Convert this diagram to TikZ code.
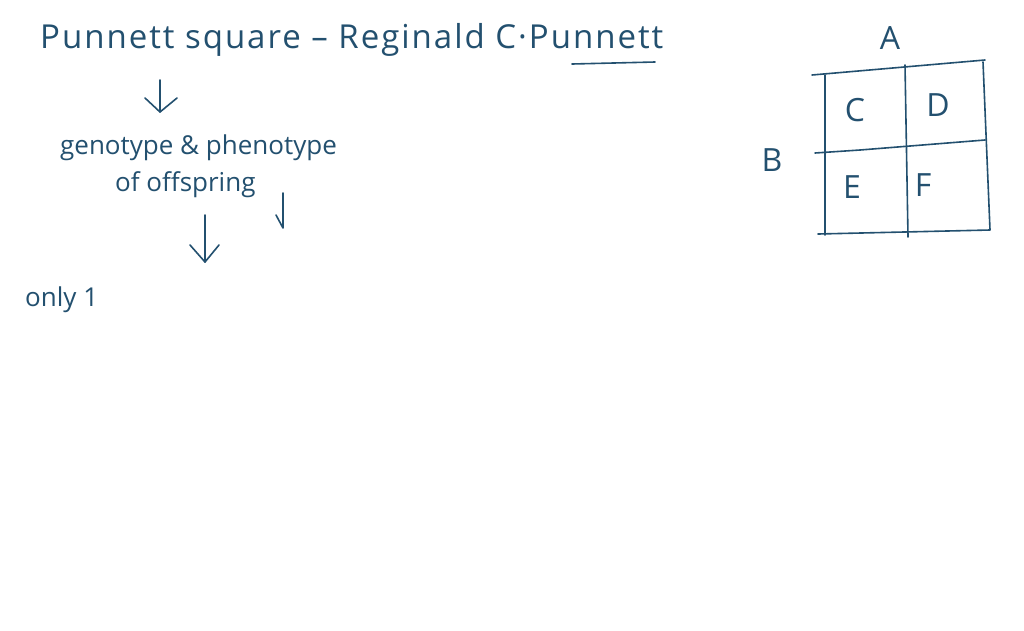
\documentclass[tikz,border=0pt]{standalone}
\usepackage{fontspec}
\setmainfont{Open Sans}
\definecolor{ink}{HTML}{23506F}
\begin{document}
\begin{tikzpicture}[x=1pt,y=-1pt,
  hand/.style={text=ink,inner sep=0pt,font=\fontsize{33}{33}\selectfont\addfontfeatures{LetterSpace=6}},
  small/.style={text=ink,inner sep=0pt,font=\fontsize{26}{26}\selectfont},
  big/.style={text=ink,inner sep=0pt,font=\fontsize{32}{32}\selectfont},
  pen/.style={draw=ink,line width=1.6pt,line cap=round,line join=round}]
\fill[white] (0,0) rectangle (1024,630);
\useasboundingbox (0,0) rectangle (1024,630);
\node[hand,anchor=west] (title) at (40,40) {Punnett square – Reginald C·Punnett};
\draw[pen] (572,64) -- (655,62);
\coordinate (a1s) at (160,80); \coordinate (a1e) at (160,112);
\draw[pen] (a1s) -- (a1e); \draw[pen] (145,98) -- (a1e) -- (177,98);
\node[small,anchor=west] (geno) at (60,148) {genotype \& phenotype};
\node[small,anchor=west] (off) at (115,185) {of offspring};
\draw[pen] (283,193) -- (283,228) -- (276,215);
\coordinate (a2s) at (205,215); \coordinate (a2e) at (205,262);
\draw[pen] (a2s) -- (a2e); \draw[pen] (190,245) -- (a2e) -- (219,245);
\node[small,anchor=west] (only) at (25,300) {only 1};
\draw[pen] (812,75) -- (985,60);
\draw[pen] (825,75) -- (825,235);
\draw[pen] (983,62) -- (990,230) -- (818,234);
\draw[pen] (905,65) -- (908,237);
\draw[pen] (815,153) -- (860,150) -- (985,140);
\node[big] (A) at (890,38) {A};
\node[big] (B) at (772,160) {B};
\node[big] (C) at (855,110) {C};
\node[big] (D) at (938,105) {D};
\node[big] (E) at (852,187) {E};
\node[big] (F) at (923,185) {F};
\end{tikzpicture}
\end{document}
